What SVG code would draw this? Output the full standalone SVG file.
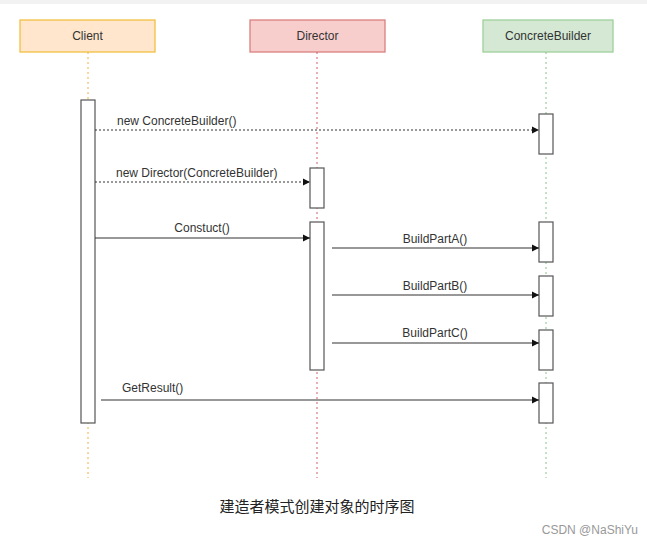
<svg xmlns="http://www.w3.org/2000/svg" width="647" height="545" viewBox="0 0 647 545">
<style>
text{font-family:"Liberation Sans",Arial,sans-serif;font-size:12px;fill:#333}
.hd{stroke-width:1.3}
.ll{stroke-dasharray:2,3;stroke-width:1}
.act{fill:#fff;stroke:#555;stroke-width:1.2}
.msg{stroke:#333;stroke-width:1.1;fill:none;marker-end:url(#ah)}
.dash{stroke-dasharray:2,2}
</style>
<defs><marker id="ah" markerWidth="8" markerHeight="8" refX="7" refY="4" orient="auto" markerUnits="userSpaceOnUse"><path d="M0,0.5 L7,4 L0,7.5 Z" fill="#111"/></marker></defs>
<rect width="647" height="545" fill="#fff"/>
<rect width="647" height="4" fill="#f2f2f2"/>
<g id="client"><rect class="hd" x="20" y="20" width="135" height="32" fill="#ffe6cc" stroke="#f2c040"/><text x="87.5" y="40" text-anchor="middle">Client</text><line class="ll" x1="88" y1="52" x2="88" y2="478" stroke="#f0b040"/><rect class="act" x="81" y="100" width="14" height="323"/></g>
<g id="director"><rect class="hd" x="250" y="20" width="135" height="32" fill="#f8cecc" stroke="#d98080"/><text x="317.5" y="40" text-anchor="middle">Director</text><line class="ll" x1="317" y1="52" x2="317" y2="478" stroke="#d06060"/><rect class="act" x="310" y="168" width="14" height="40"/><rect class="act" x="310" y="222" width="14" height="148"/></g>
<g id="builder"><rect class="hd" x="483" y="20" width="130" height="32" fill="#d5e8d4" stroke="#9fcf9a"/><text x="548" y="40" text-anchor="middle">ConcreteBuilder</text><line class="ll" x1="546" y1="52" x2="546" y2="478" stroke="#90c090"/><rect class="act" x="539" y="114" width="14" height="40"/><rect class="act" x="539" y="222" width="14" height="40"/><rect class="act" x="539" y="276" width="14" height="40"/><rect class="act" x="539" y="330" width="14" height="40"/><rect class="act" x="539" y="383" width="14" height="40"/></g>
<g id="connectors">
<line class="msg dash" x1="95" y1="130" x2="539" y2="130"/><text x="117" y="125">new ConcreteBuilder()</text>
<line class="msg dash" x1="95" y1="182" x2="310" y2="182"/><text x="116" y="177">new Director(ConcreteBuilder)</text>
<line class="msg" x1="95" y1="238" x2="310" y2="238"/><text x="202" y="232" text-anchor="middle">Constuct()</text>
<line class="msg" x1="332" y1="248" x2="539" y2="248"/><text x="435" y="243" text-anchor="middle">BuildPartA()</text>
<line class="msg" x1="332" y1="295" x2="539" y2="295"/><text x="435" y="290" text-anchor="middle">BuildPartB()</text>
<line class="msg" x1="332" y1="343" x2="539" y2="343"/><text x="435" y="337" text-anchor="middle">BuildPartC()</text>
<line class="msg" x1="101" y1="400" x2="539" y2="400"/><text x="122" y="392">GetResult()</text>
</g>
<text x="317" y="512" text-anchor="middle" style="font-family:'Noto Sans CJK SC',sans-serif;font-size:15px;fill:#222">建造者模式创建对象的时序图</text>
<text x="638" y="534" text-anchor="end" style="font-size:12px;fill:#999">CSDN @NaShiYu</text>
</svg>
